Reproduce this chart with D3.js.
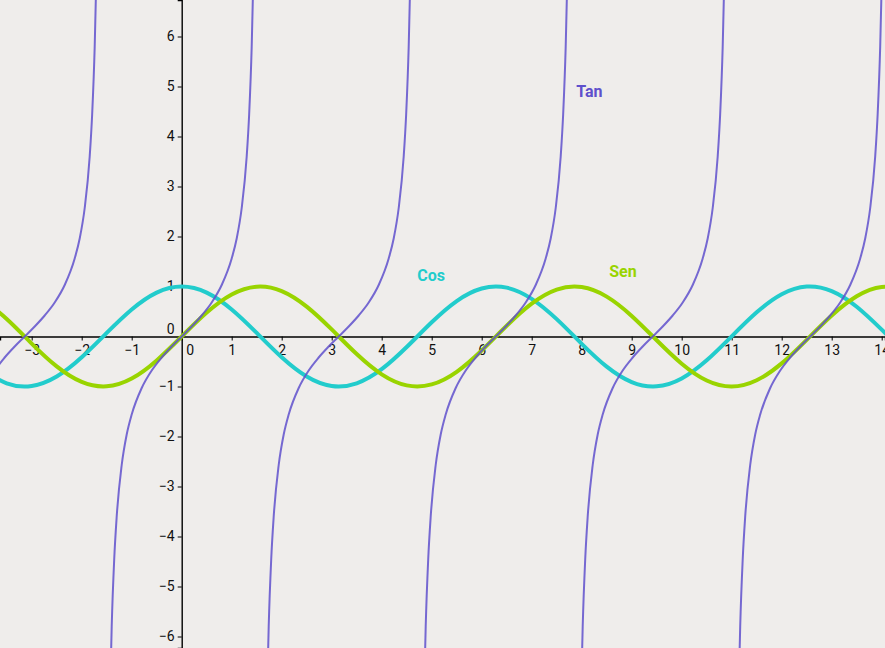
<!DOCTYPE html>
<html>
<head>
<meta charset="utf-8">
<script src="https://cdn.jsdelivr.net/npm/d3@7"></script>
<style>
    html, body { margin: 0; padding: 0; background: #efedeb; }
    svg { display: block; }
    .tick text { font-family: Roboto, "Noto Sans", sans-serif; font-size: 14px; fill: #111; }
    .label { font-family: Roboto, "Noto Sans", sans-serif; font-weight: bold; font-size: 16px; }
</style>
</head>
<body>
<svg id="chart" width="885" height="648"></svg>
<script>
"use strict"

// values
var sinX = [-4, -3.5, -3, -2.5, -2, -1.5, -1, -0.5, 0, 0.5, 1, 1.5, 2, 2.5, 3, 3.5, 4, 4.5, 5,
    5.5, 6, 6.5, 7, 7.5, 8, 8.5, 9, 9.5, 10, 10.5, 11, 11.5, 12, 12.5, 13, 13.5, 14, 14.5];
var sinY = [0.757, 0.351, -0.141, -0.598, -0.909, -0.997, -0.841, -0.479, 0, 0.479, 0.841, 0.997,
    0.909, 0.598, 0.141, -0.351, -0.757, -0.978, -0.959, -0.706, -0.279, 0.215, 0.657, 0.938,
    0.989, 0.798, 0.412, -0.075, -0.544, -0.880, -1.000, -0.875, -0.537, -0.066, 0.420, 0.804,
    0.991, 0.935];
var cosY = [-0.654, -0.936, -0.990, -0.801, -0.416, 0.071, 0.540, 0.878, 1, 0.878, 0.540, 0.071,
    -0.416, -0.801, -0.990, -0.936, -0.654, -0.211, 0.284, 0.709, 0.960, 0.977, 0.754, 0.347,
    -0.146, -0.602, -0.911, -0.997, -0.839, -0.476, 0.004, 0.483, 0.844, 0.998, 0.907, 0.595,
    0.137, -0.355];

// one tan branch, offset from its centre, and where the branches sit
var tanDx = [-1.43, -1.4, -1.35, -1.3, -1.2, -1.1, -1.0, -0.8, -0.6, -0.4, -0.2, 0,
    0.2, 0.4, 0.6, 0.8, 1.0, 1.1, 1.2, 1.3, 1.35, 1.4, 1.43];
var tanY = [-7.06, -5.80, -4.46, -3.60, -2.57, -1.96, -1.56, -1.03, -0.68, -0.42, -0.20, 0,
    0.20, 0.42, 0.68, 1.03, 1.56, 1.96, 2.57, 3.60, 4.46, 5.80, 7.06];
var tanCenters = [-3.14, 0, 3.14, 6.28, 9.42, 12.57];

var xTicks = [-3, -2, -1, 0, 1, 2, 3, 4, 5, 6, 7, 8, 9, 10, 11, 12, 13, 14];
var yTicks = [-6, -5, -4, -3, -2, -1, 1, 2, 3, 4, 5, 6];

var labels = [
    { text: "Tan", x: 7.89, y: 4.79, color: "#5f50cc" },
    { text: "Cos", x: 4.71, y: 1.11, color: "#22cccc" },
    { text: "Sen", x: 8.55, y: 1.19, color: "#99d400" }
];

var svg = d3.select("#chart"),
    width = +svg.attr("width"),
    height = +svg.attr("height");

var xScale = d3.scaleLinear()
    .domain([-3.634, 14.066])
    .range([0, width]);
var yScale = d3.scaleLinear()
    .domain([-6.23, 6.73])
    .range([height, 0]);

svg.append("rect")
    .attr("width", width)
    .attr("height", height)
    .attr("fill", "#efedeb");

svg.append("defs").append("clipPath")
    .attr("id", "clip")
    .append("rect")
    .attr("width", width)
    .attr("height", height);

var fmt = d3.format("d");

// x axis
var xAxis = svg.append("g")
    .attr("transform", "translate(0," + yScale(0) + ")")
    .call(d3.axisBottom(xScale).tickValues(xTicks).tickSize(4).tickPadding(5).tickFormat(fmt));
xAxis.select(".domain").attr("stroke", "#000").attr("stroke-width", 1.4);
xAxis.selectAll(".tick line").attr("stroke", "#000");
xAxis.selectAll(".tick")
    .filter(function(d) { return d === 0; })
    .select("text")
    .attr("x", 8);

// y axis
var yAxis = svg.append("g")
    .attr("transform", "translate(" + xScale(0) + ",0)")
    .call(d3.axisLeft(yScale).tickValues(yTicks).tickSize(4).tickPadding(3).tickFormat(fmt));
yAxis.select(".domain").attr("stroke", "#000").attr("stroke-width", 1.4);
yAxis.selectAll(".tick line").attr("stroke", "#000");

// origin label on the y side
yAxis.append("text")
    .attr("x", -7)
    .attr("y", yScale(0) - 3)
    .attr("text-anchor", "end")
    .attr("fill", "#111")
    .style("font-family", "Roboto, 'Noto Sans', sans-serif")
    .style("font-size", "14px")
    .text("0");

var plot = svg.append("g")
    .attr("clip-path", "url(#clip)");

var wave = d3.line()
    .x(function(d) { return xScale(d[0]); })
    .y(function(d) { return yScale(d[1]); })
    .curve(d3.curveNatural);

var branch = d3.line()
    .x(function(d) { return xScale(d[0]); })
    .y(function(d) { return yScale(d[1]); })
    .curve(d3.curveMonotoneX);

var cosData = sinX.map(function(x, i) { return [x, cosY[i]]; });
var sinData = sinX.map(function(x, i) { return [x, sinY[i]]; });

plot.append("path")
    .datum(cosData)
    .attr("fill", "none")
    .attr("stroke", "#22cccc")
    .attr("stroke-width", 4)
    .attr("d", wave);

plot.append("path")
    .datum(sinData)
    .attr("fill", "none")
    .attr("stroke", "#99d400")
    .attr("stroke-width", 4)
    .attr("d", wave);

plot.selectAll(".tan")
    .data(tanCenters)
    .enter().append("path")
    .attr("class", "tan")
    .attr("fill", "none")
    .attr("stroke", "#5f50cc")
    .attr("stroke-opacity", 0.85)
    .attr("stroke-width", 2)
    .attr("d", function(c) {
        return branch(tanDx.map(function(dx, i) { return [c + dx, tanY[i]]; }));
    });

// curve names
svg.selectAll(".label")
    .data(labels)
    .enter().append("text")
    .attr("class", "label")
    .attr("x", function(d) { return xScale(d.x); })
    .attr("y", function(d) { return yScale(d.y); })
    .attr("fill", function(d) { return d.color; })
    .text(function(d) { return d.text; });
</script>
</body>
</html>
